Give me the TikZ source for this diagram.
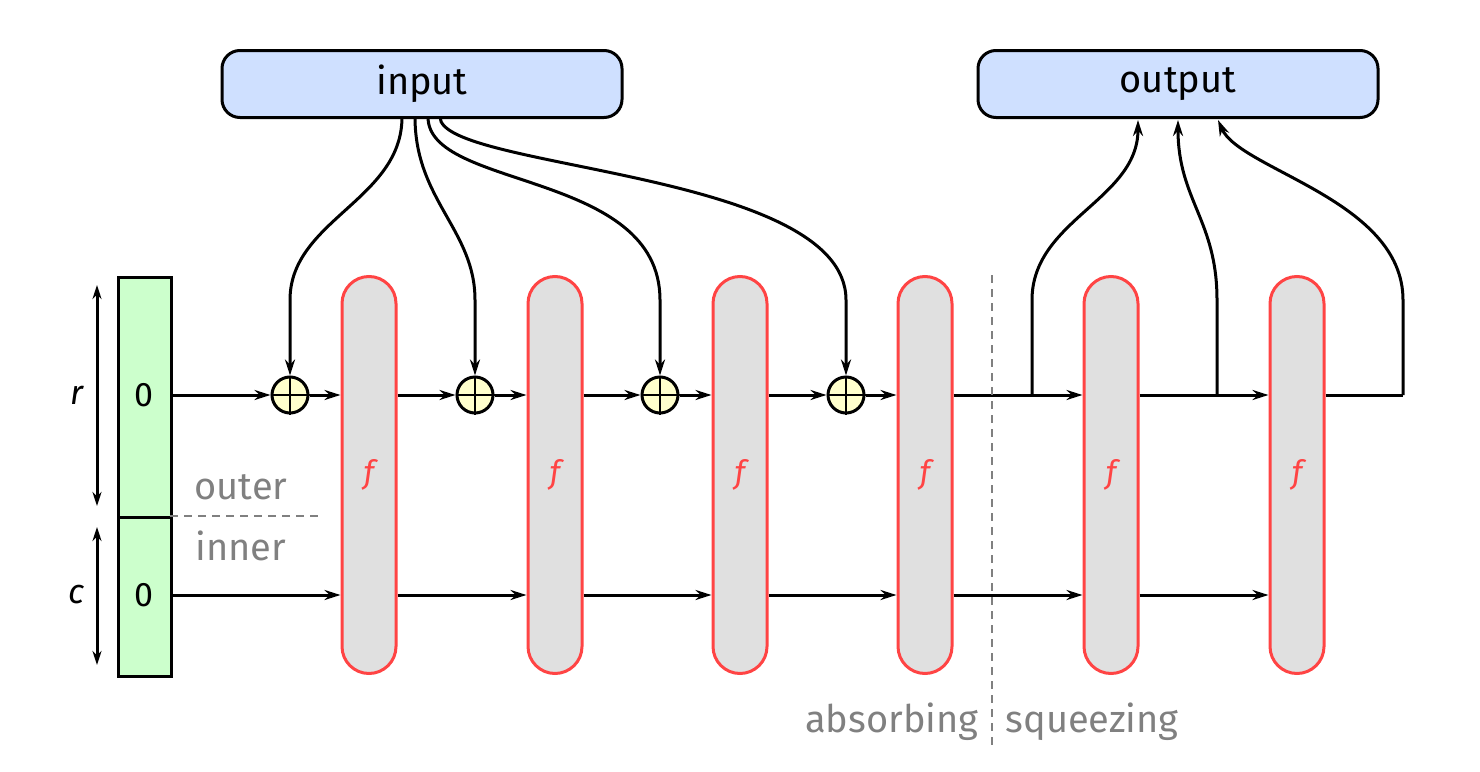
\documentclass[tikz,border=0pt]{standalone}
\usepackage{fontspec}
\setmainfont{Fira Sans}
\usetikzlibrary{arrows.meta}
\definecolor{inb}{HTML}{CFE0FF}
\definecolor{fg}{HTML}{E0E0E0}
\definecolor{fr}{HTML}{FF4444}
\definecolor{gb}{HTML}{CCFFCC}
\definecolor{yb}{HTML}{FFFFCC}
\definecolor{gt}{HTML}{808080}
\begin{document}
\begin{tikzpicture}[x=1pt,y=-1pt,
  ln/.style={line width=3pt},
  ar/.style={ln,-{Stealth[length=16pt,width=10pt]}},
  io/.style={draw,line width=3pt,fill=inb,rounded corners=18pt,minimum width=400pt,minimum height=67pt,font=\fontsize{38}{40}\selectfont},
  fb/.style={draw=fr,line width=3pt,fill=fg,rounded corners=27pt,minimum width=54pt,minimum height=397pt,text=fr,font=\fontsize{32}{34}\selectfont\itshape},
  xo/.style={circle,draw,line width=3pt,fill=yb,minimum size=36pt,inner sep=0pt},
  lab/.style={font=\fontsize{34}{36}\selectfont},
  gl/.style={text=gt,font=\fontsize{38}{40}\selectfont}]
\useasboundingbox (0,0) rectangle (1480,771);
\node[io] (in) at (422,84) {input};
\node[io] (out) at (1178,84) {output};
\node[draw,line width=3pt,fill=gb,minimum width=53pt,minimum height=240pt,inner sep=0pt,anchor=north west,lab] (g1) at (117,276) {};
\node[draw,line width=3pt,fill=gb,minimum width=53pt,minimum height=159pt,inner sep=0pt,anchor=north west] (g2) at (117,516) {};
\node[lab] (z1) at (144,395) {0};
\node[lab] (z2) at (144,595) {0};
\node[lab,font=\fontsize{34}{36}\selectfont\itshape] (r) at (77,395) {r};
\node[lab,font=\fontsize{34}{36}\selectfont\itshape] (c) at (77,595) {c};
\coordinate (ra) at (97,285); \coordinate (rb) at (97,506);
\coordinate (ca) at (97,527); \coordinate (cb) at (97,665);
\draw[ln,{Stealth[length=14pt,width=9pt]}-{Stealth[length=14pt,width=9pt]}] (ra) -- (rb);
\draw[ln,{Stealth[length=14pt,width=9pt]}-{Stealth[length=14pt,width=9pt]}] (ca) -- (cb);
\node[gl] (outer) at (241,487) {outer};
\node[gl] (inner) at (241,546) {inner};
\coordinate (d1) at (170,516); \coordinate (d2) at (318,516);
\draw[gt,line width=2.5pt,dash pattern=on 8pt off 6pt] (d1) -- (d2);
\foreach \i/\x in {1/369,2/555,3/740,4/925,5/1111,6/1297}
  \node[fb] (f\i) at (\x,475) {f};
\foreach \i/\x in {1/290,2/475,3/660,4/846}{
  \node[xo] (p\i) at (\x,395) {};
  \draw[line width=2.5pt] (p\i.north) -- (p\i.south) (p\i.west) -- (p\i.east);}
% top row
\coordinate (s1) at (170,395);
\draw[ar] (s1) -- (p1);
\draw[ar] (p1) -- (f1.west|-p1);
\draw[ar] (f1.east|-p1) -- (p2);
\draw[ar] (p2) -- (f2.west|-p2);
\draw[ar] (f2.east|-p2) -- (p3);
\draw[ar] (p3) -- (f3.west|-p3);
\draw[ar] (f3.east|-p3) -- (p4);
\draw[ar] (p4) -- (f4.west|-p4);
\coordinate (t1) at (1032,395); \coordinate (t2) at (1217,395); \coordinate (t3) at (1403,395);
\draw[ar] (f4.east|-p4) -- (f5.west|-p4);
\draw[ar] (f5.east|-p4) -- (f6.west|-p4);
\draw[ln] (f6.east|-p4) -- (t3);
% bottom row
\draw[ar] (170,595) -- (f1.west|-z2);
\draw[ar] (f1.east|-z2) -- (f2.west|-z2);
\draw[ar] (f2.east|-z2) -- (f3.west|-z2);
\draw[ar] (f3.east|-z2) -- (f4.west|-z2);
\draw[ar] (f4.east|-z2) -- (f5.west|-z2);
\draw[ar] (f5.east|-z2) -- (f6.west|-z2);
% input curves
\draw[ar] (402,117) .. controls (402,200) and (290,220) .. (290,300) -- (p1.north);
\draw[ar] (415,117) .. controls (415,200) and (475,230) .. (475,300) -- (p2.north);
\draw[ar] (428,117) .. controls (428,190) and (660,170) .. (660,300) -- (p3.north);
\draw[ar] (440,117) .. controls (440,170) and (846,170) .. (846,300) -- (p4.north);
% output curves
\draw[ar] (t1) -- (1032,300) .. controls (1032,220) and (1138,200) .. (1138,120);
\draw[ar] (t2) -- (1217,300) .. controls (1217,220) and (1178,200) .. (1178,120);
\draw[ar] (t3) -- (1403,300) .. controls (1403,200) and (1240,170) .. (1218,120);
% phase divider
\coordinate (v1) at (992,275); \coordinate (v2) at (992,750);
\draw[gt,line width=2.5pt,dash pattern=on 8pt off 6pt] (v1) -- (v2);
\node[gl,anchor=east] (abs) at (982,722) {absorbing};
\node[gl,anchor=west] (sq) at (1002,722) {squeezing};
\end{tikzpicture}
\end{document}
